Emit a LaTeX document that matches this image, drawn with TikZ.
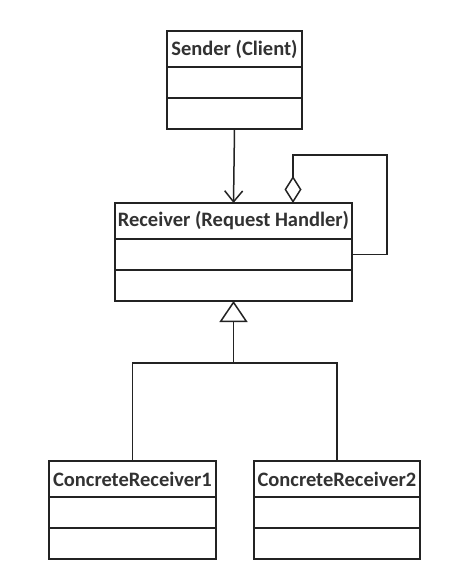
\documentclass[tikz,border=0pt]{standalone}
\usepackage{fontspec}
\setmainfont{Carlito}
\usetikzlibrary{arrows.meta,positioning}
\definecolor{inkgray}{RGB}{35,35,35}
\definecolor{textgray}{RGB}{50,50,50}
\tikzset{
  classbox/.style={rectangle, draw=inkgray, line width=1.7pt, fill=white, outer sep=0pt, inner sep=0pt,
                   minimum height=36pt, align=center, font=\fontsize{20.5}{24}\selectfont\bfseries, text=textgray},
  classpart/.style={classbox, minimum height=31pt},
  arrow/.style={-{Straight Barb[length=11pt, width=18pt]}, line width=1.5pt, inkgray},
  arrowagg/.style={-{Diamond[open, length=27pt, width=17pt]}, line width=1.5pt, inkgray},
  arrowinh/.style={-{Triangle[open, length=21pt, width=28pt]}, line width=1.5pt, inkgray},
  link/.style={line width=1.5pt, inkgray},
}
\begin{document}
\begin{tikzpicture}[x=1pt, y=-1pt]
\useasboundingbox (0,0) rectangle (474,588);
% classes
\node[classbox, minimum width=135pt] (sender) at (234.5,49) {Sender (Client)};
\node[classpart, minimum width=135pt, below=0pt of sender] (sender1) {};
\node[classpart, minimum width=135pt, below=0pt of sender1] (sender2) {};
\node[classbox, minimum width=237pt] (receiver) at (233.5,221) {Receiver (Request Handler)};
\node[classpart, minimum width=237pt, below=0pt of receiver] (receiver1) {};
\node[classpart, minimum width=237pt, below=0pt of receiver1] (receiver2) {};
\node[classbox, minimum width=167pt] (cr1) at (132.5,479) {ConcreteReceiver1};
\node[classpart, minimum width=167pt, below=0pt of cr1] (cr11) {};
\node[classpart, minimum width=167pt, below=0pt of cr11] (cr12) {};
\node[classbox, minimum width=166pt] (cr2) at (337,479) {ConcreteReceiver2};
\node[classpart, minimum width=166pt, below=0pt of cr2] (cr21) {};
\node[classpart, minimum width=166pt, below=0pt of cr21] (cr22) {};
% relations
\coordinate (loopL) at (293,155);
\coordinate (loopR) at (387,155);
\coordinate (fork) at (233.5,363);
\draw[arrow] (sender2.south) -- (receiver.north);
\draw[arrowagg] (receiver1.east) -| (loopR) -| (loopL |- receiver.north);
\draw[arrowinh] (fork) -- (receiver2.south);
\draw[link] (cr1.north) |- (fork) -| (cr2.north);
\end{tikzpicture}
\end{document}
